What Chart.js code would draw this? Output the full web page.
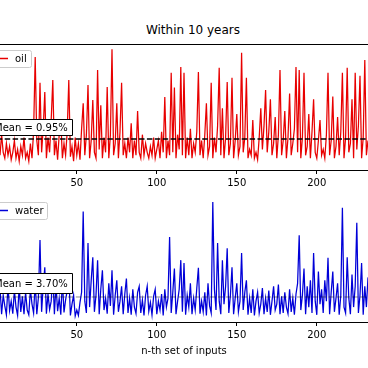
<!DOCTYPE html>
<html>
<head>
<meta charset="utf-8">
<script src="https://cdn.jsdelivr.net/npm/chart.js@4.4.0/dist/chart.umd.min.js"></script>
<style>
  html, body { margin: 0; padding: 0; background: #fff; overflow: hidden; width: 368px; height: 368px; }
  .panel { position: absolute; left: 0; }
  #title { position: absolute; top: 23px; left: 0; width: 386px; text-align: center;
           font: 12px 'DejaVu Sans'; color: #000; }
</style>
</head>
<body>
<div id="title">Within 10 years</div>
<canvas id="oilChart" class="panel" width="368" height="150" style="top:42px"></canvas>
<canvas id="waterChart" class="panel" width="368" height="168" style="top:194px"></canvas>
<script>
// ------------------------------------------------------- //
// Data
// ------------------------------------------------------ //
var oilValues = [
    0.6, 0.9, 0.4, 1.1, 0.5, 0.3, 0.8, 0.4, 0.7, 0.25,
    0.5, 0.9, 0.3, 0.6, 0.2, 0.7, 0.4, 1.0, 0.3, 0.5,
    0.2, 0.8, 0.3, 1.2, 3.74, 0.9, 0.4, 2.86, 0.5, 1.3,
    2.55, 0.3, 1.0, 0.5, 1.6, 2.96, 0.4, 0.9, 0.25, 1.1,
    1.6, 0.3, 0.8, 0.4, 1.2, 2.96, 0.35, 0.7, 0.2, 1.0,
    0.4, 0.8, 0.25, 1.3, 2.17, 0.4, 1.1, 2.79, 0.3, 0.9,
    2.28, 0.5, 0.3, 3.3, 0.6, 2.1, 0.3, 1.0, 0.5, 2.72,
    0.3, 1.1, 4.0, 0.4, 0.8, 2.17, 0.3, 1.2, 2.86, 0.4,
    0.8, 0.3, 1.0, 0.5, 1.49, 0.3, 0.9, 0.4, 1.9, 0.5,
    0.3, 1.1, 0.4, 0.8, 0.5, 0.3, 0.7, 0.4, 1.0, 0.3,
    0.6, 0.9, 0.3, 1.2, 0.5, 2.38, 0.3, 0.9, 0.4, 3.2,
    0.5, 2.7, 0.3, 1.1, 0.6, 3.4, 0.4, 3.2, 0.3, 1.0,
    0.4, 1.3, 0.3, 0.8, 0.5, 1.2, 3.23, 0.4, 0.9, 0.3,
    1.1, 2.17, 0.4, 0.7, 2.86, 0.3, 1.0, 0.5, 1.4, 3.37,
    0.4, 2.0, 0.3, 1.0, 2.89, 0.4, 0.8, 3.03, 0.3, 0.9,
    1.8, 0.4, 0.7, 3.88, 0.5, 1.0, 3.03, 0.3, 0.6, 0.4,
    1.6, 0.3, 0.5, 0.25, 1.0, 2.0, 0.6, 1.4, 2.62, 0.5,
    1.2, 2.3, 0.4, 0.8, 1.7, 0.3, 1.1, 3.3, 0.4, 0.9,
    1.9, 0.3, 1.0, 2.5, 0.4, 0.8, 1.3, 3.4, 0.5, 3.3,
    0.3, 1.0, 3.2, 0.4, 0.7, 1.8, 0.3, 1.2, 2.3, 0.5,
    0.3, 0.9, 1.6, 0.4, 0.6, 0.3, 1.1, 3.2, 0.4, 0.9,
    2.4, 0.3, 0.7, 1.7, 0.4, 1.2, 3.2, 0.3, 1.0, 3.37,
    0.5, 0.8, 2.3, 0.3, 3.2, 0.6, 1.4, 3.1, 0.3, 1.0,
    3.64, 0.4, 0.9, 2.2, 0.3, 1.1, 3.0, 0.4, 0.8, 1.5
];

var waterValues = [
    3.5, 1.0, 5.2, 0.8, 4.0, 2.2, 0.7, 5.6, 1.4, 3.0,
    0.9, 4.8, 2.0, 0.6, 5.5, 1.2, 3.8, 0.8, 4.5, 1.5,
    0.7, 5.0, 2.5, 1.0, 6.2, 0.8, 3.6, 13.3, 1.2, 5.5,
    8.7, 0.9, 4.2, 1.6, 3.0, 7.7, 0.8, 5.8, 1.3, 3.5,
    0.7, 6.5, 1.1, 3.2, 4.8, 7.7, 0.6, 2.5, 4.0, 0.5,
    1.5, 0.6, 2.8, 4.5, 18.1, 3.0, 1.0, 12.8, 2.0, 6.5,
    10.4, 1.2, 4.0, 9.9, 0.8, 5.0, 8.2, 1.5, 3.5, 0.9,
    6.0, 2.2, 8.2, 0.7, 4.0, 6.5, 1.2, 3.0, 5.5, 0.8,
    4.2, 6.8, 1.0, 3.5, 0.7, 5.0, 2.0, 0.9, 4.5, 5.5,
    1.0, 3.2, 0.6, 4.0, 5.5, 1.3, 2.8, 0.7, 3.8, 5.0,
    0.8, 3.0, 1.5, 4.2, 0.6, 5.0, 2.0, 3.5, 13.8, 1.0,
    4.5, 8.5, 0.8, 3.0, 5.0, 9.9, 1.2, 9.4, 0.7, 4.0,
    2.0, 6.0, 0.8, 3.5, 1.5, 5.2, 8.6, 0.9, 3.0, 1.2,
    4.5, 0.6, 6.0, 2.2, 1.0, 19.7, 5.0, 1.5, 12.8, 3.0,
    0.8, 9.9, 2.5, 5.5, 11.9, 1.0, 4.0, 8.7, 0.8, 3.5,
    6.0, 1.2, 3.0, 11.1, 1.5, 4.5, 6.5, 0.7, 3.5, 1.0,
    5.0, 0.6, 3.0, 4.5, 1.0, 2.5, 5.2, 0.8, 3.5, 1.2,
    4.8, 0.7, 3.0, 5.5, 1.5, 2.5, 5.8, 0.8, 3.8, 1.0,
    4.5, 2.0, 0.9, 5.0, 1.2, 3.5, 0.7, 4.2, 6.0, 14.1,
    1.5, 4.0, 8.5, 0.8, 5.5, 2.0, 6.5, 1.0, 11.1, 3.0,
    0.7, 8.0, 2.5, 5.0, 1.0, 6.5, 3.0, 10.3, 0.8, 4.5,
    8.0, 1.2, 3.5, 6.0, 0.7, 4.0, 18.7, 2.0, 1.0, 10.4,
    3.5, 0.8, 7.5, 2.0, 5.5, 16.2, 1.0, 4.0, 9.4, 0.7,
    5.5, 2.0, 7.0, 0.9, 4.0, 6.5, 1.2, 3.0, 8.0, 1.5
];

var meanOil   = 0.95,
    meanWater = 3.70;

var xTicks = [50, 100, 150, 200];
var xMin = 2, xMax = 232;

var FONT = 'DejaVu Sans';

function toPoints(values) {
    return values.map(function (v, i) { return { x: i, y: v }; });
}

function meanPoints(m, n) {
    return [{ x: 0, y: m }, { x: n - 1, y: m }];
}

// ------------------------------------------------------- //
// Legend box, mean label box, top spine
// ------------------------------------------------------ //
function roundRect(ctx, x, y, w, h, r) {
    ctx.beginPath();
    ctx.moveTo(x + r, y);
    ctx.lineTo(x + w - r, y);
    ctx.arcTo(x + w, y, x + w, y + r, r);
    ctx.lineTo(x + w, y + h - r);
    ctx.arcTo(x + w, y + h, x + w - r, y + h, r);
    ctx.lineTo(x + r, y + h);
    ctx.arcTo(x, y + h, x, y + h - r, r);
    ctx.lineTo(x, y + r);
    ctx.arcTo(x, y, x + r, y, r);
    ctx.closePath();
}

var boxesPlugin = {
    id: 'boxes',
    afterDatasetsDraw: function (chart, args, opts) {
        var ctx = chart.ctx, area = chart.chartArea;
        ctx.save();
        ctx.font = '10px "' + FONT + '"';
        ctx.textBaseline = 'middle';

        if (opts.topSpine) {
            ctx.strokeStyle = '#000';
            ctx.lineWidth = 1;
            ctx.beginPath();
            ctx.moveTo(area.left, area.top + 0.5);
            ctx.lineTo(area.right, area.top + 0.5);
            ctx.stroke();
        }

        // legend
        var ly = area.top + 6;
        roundRect(ctx, -10.5, ly + 0.5, opts.legendWidth + 10, 17, 2);
        ctx.fillStyle = 'rgba(255,255,255,0.85)';
        ctx.fill();
        ctx.strokeStyle = '#cccccc';
        ctx.lineWidth = 1;
        ctx.stroke();
        ctx.strokeStyle = opts.color;
        ctx.lineWidth = 1.5;
        ctx.beginPath();
        ctx.moveTo(-2, ly + 8.5);
        ctx.lineTo(8, ly + 8.5);
        ctx.stroke();
        ctx.fillStyle = '#000';
        ctx.fillText(opts.label, 15, ly + 9);

        // mean label
        var my = chart.scales.y.getPixelForValue(opts.mean);
        var bh = opts.meanBoxHeight;
        var by = Math.round(my - 4 - bh) + 0.5;
        ctx.beginPath();
        ctx.rect(-10.5, by, 83, bh);
        ctx.fillStyle = '#fff';
        ctx.fill();
        ctx.strokeStyle = '#000';
        ctx.lineWidth = 1;
        ctx.stroke();
        ctx.fillStyle = '#000';
        ctx.fillText('Mean = ' + opts.mean.toFixed(2) + '%', -6, by + bh / 2 + 0.5);

        ctx.restore();
    }
};

function xScale(axisHeight, withTitle) {
    return {
        type: 'linear',
        min: xMin,
        max: xMax,
        afterBuildTicks: function (s) {
            s.ticks = xTicks.map(function (v) { return { value: v }; });
        },
        afterFit: function (s) { s.height = axisHeight; },
        grid: {
            drawOnChartArea: false,
            drawTicks: true,
            tickLength: 4,
            tickColor: '#000',
            color: '#000'
        },
        border: { display: true, color: '#000', width: 1 },
        ticks: {
            color: '#000',
            font: { family: FONT, size: 10 },
            padding: 3,
            maxRotation: 0,
            autoSkip: false
        },
        title: {
            display: withTitle,
            text: 'n-th set of inputs',
            color: '#000',
            font: { family: FONT, size: 10 },
            padding: { top: 0, bottom: 5 }
        }
    };
}

function makeChart(id, values, mean, color, label, yMin, yMax, opts) {
    return new Chart(document.getElementById(id), {
        type: 'line',
        data: {
            datasets: [
                {
                    data: meanPoints(mean, values.length),
                    borderColor: opts.meanColor,
                    borderWidth: opts.meanWidth,
                    borderDash: [5.5, 2.4],
                    order: 0
                },
                {
                    data: toPoints(values),
                    borderColor: color,
                    borderWidth: 1.25,
                    order: 1
                }
            ]
        },
        options: {
            responsive: false,
            animation: false,
            layout: { padding: { top: 2, left: 0, right: 0, bottom: 0 } },
            elements: { point: { radius: 0 }, line: { tension: 0 } },
            scales: {
                x: xScale(opts.axisHeight, opts.xTitle),
                y: { display: false, min: yMin, max: yMax }
            },
            plugins: {
                legend: { display: false },
                tooltip: { enabled: false },
                boxes: {
                    topSpine: opts.topSpine,
                    legendWidth: opts.legendWidth,
                    color: color,
                    label: label,
                    mean: mean,
                    meanBoxHeight: opts.meanBoxHeight
                }
            }
        },
        plugins: [boxesPlugin]
    });
}

makeChart('oilChart', oilValues, meanOil, '#e80000', 'oil', -0.1, 4.18, {
    axisHeight: 22, xTitle: false, topSpine: true, legendWidth: 32,
    meanBoxHeight: 16, meanColor: '#000', meanWidth: 1.5
});

makeChart('waterChart', waterValues, meanWater, '#0000d8', 'water', -0.51, 20.7, {
    axisHeight: 40, xTitle: true, topSpine: false, legendWidth: 48,
    meanBoxHeight: 20, meanColor: 'rgba(0,0,0,0.45)', meanWidth: 1
});
</script>
</body>
</html>
